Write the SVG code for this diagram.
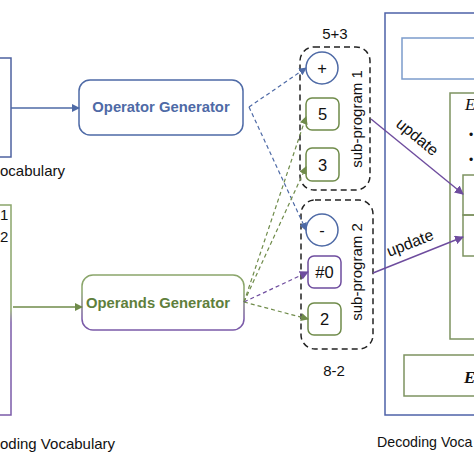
<svg xmlns="http://www.w3.org/2000/svg" width="474" height="474" viewBox="0 0 474 474">
<style>
text{font-family:"Liberation Sans",Arial,sans-serif;fill:#111}
.lbl{font-size:15px}
.nl{font-size:16.5px}
.gen{font-size:14.8px;font-weight:bold}
.sp{fill:none;stroke:#222;stroke-width:1.5;stroke-dasharray:6,4}
.conn{fill:none;stroke-width:1.2;stroke-dasharray:4,3}
.solid{fill:none;stroke-width:1.4}
.blue{stroke:#4e6aa6}
.green{stroke:#6f8b4a}
.purple{stroke:#6e4c9e}
.node{fill:#fff;stroke-width:1.5}
.gbox{fill:none;stroke:#7d9360;stroke-width:1.5}
.ser{font-family:"Liberation Serif","Times New Roman",serif;font-style:italic}
</style>
<defs>
<marker id="aB" markerWidth="8" markerHeight="8" refX="7" refY="4" orient="auto" markerUnits="userSpaceOnUse"><path d="M0,0 L8,4 L0,8 z" fill="#4e6aa6"/></marker>
<marker id="aG" markerWidth="8" markerHeight="8" refX="7" refY="4" orient="auto" markerUnits="userSpaceOnUse"><path d="M0,0 L8,4 L0,8 z" fill="#6f8b4a"/></marker>
<marker id="aP" markerWidth="9" markerHeight="9" refX="8" refY="4.5" orient="auto" markerUnits="userSpaceOnUse"><path d="M0,0 L9,4.5 L0,9 z" fill="#6e4c9e"/></marker>
<linearGradient id="gpV" gradientUnits="userSpaceOnUse" x1="0" y1="205" x2="0" y2="415"><stop offset="0.5" stop-color="#8aa56a"/><stop offset="0.56" stop-color="#7a5aa8"/></linearGradient>
<linearGradient id="gpG" gradientUnits="userSpaceOnUse" x1="0" y1="275" x2="0" y2="330"><stop offset="0.3" stop-color="#8aa56a"/><stop offset="0.8" stop-color="#7a5aa8"/></linearGradient>
</defs>

<g id="op-vocab">
<rect x="-20" y="58" width="31" height="99" fill="none" stroke="#4e62a0" stroke-width="1.5"/>
<text class="lbl" x="0" y="176">ocabulary</text>
</g>

<g id="dec-vocab-left">
<rect x="-20" y="205" width="31" height="210" fill="none" stroke="url(#gpV)" stroke-width="1.5"/>
<text class="lbl" x="0" y="220">1</text>
<text class="lbl" x="0" y="242">2</text>
<text class="lbl" x="0" y="449">oding Vocabulary</text>
</g>

<g id="operator-generator">
<rect x="79" y="80" width="164" height="55" rx="11" fill="#fff" stroke="#4e6aa6" stroke-width="1.5"/>
<text class="gen" x="161" y="112" text-anchor="middle" style="fill:#4e6aa6">Operator Generator</text>
</g>

<g id="operands-generator">
<rect x="82" y="275" width="162" height="55" rx="11" fill="#fff" stroke="url(#gpG)" stroke-width="1.5"/>
<text class="gen" x="158" y="308" text-anchor="middle" style="fill:#5f7f3c">Operands Generator</text>
</g>

<g id="sub-program-1">
<rect class="sp" x="300" y="47" width="70" height="143" rx="14"/>
<text class="lbl" x="335" y="39" text-anchor="middle">5+3</text>
<text class="lbl" transform="translate(362,119) rotate(-90)" text-anchor="middle">sub-program 1</text>
</g>
<g id="node-plus">
<circle class="node blue" cx="322" cy="68" r="16"/>
<text class="nl" x="322" y="74" text-anchor="middle">+</text>
</g>
<g id="node-5">
<rect class="node green" x="306" y="98" width="33" height="32" rx="6"/>
<text class="nl" x="322.5" y="120" text-anchor="middle">5</text>
</g>
<g id="node-3">
<rect class="node green" x="306" y="148" width="33" height="33" rx="6"/>
<text class="nl" x="322.5" y="171" text-anchor="middle">3</text>
</g>

<g id="sub-program-2">
<rect class="sp" x="301" y="200" width="72" height="149" rx="14"/>
<text class="lbl" x="334" y="376" text-anchor="middle">8-2</text>
<text class="lbl" transform="translate(362,272) rotate(-90)" text-anchor="middle">sub-program 2</text>
</g>
<g id="node-minus">
<circle class="node blue" cx="322" cy="230" r="16"/>
<text class="nl" x="322" y="236" text-anchor="middle">-</text>
</g>
<g id="node-h0">
<rect class="node purple" x="308" y="256" width="33" height="32" rx="6"/>
<text class="nl" x="324.5" y="278" text-anchor="middle">#0</text>
</g>
<g id="node-2">
<rect class="node green" x="308" y="303" width="33" height="32" rx="6"/>
<text class="nl" x="324.5" y="325" text-anchor="middle">2</text>
</g>

<g id="decoding-vocabulary">
<rect x="385" y="13" width="110" height="402" fill="none" stroke="#4e62a8" stroke-width="1.5"/>
<rect x="402" y="38" width="90" height="41" fill="none" stroke="#7c9ccc" stroke-width="1.5"/>
<rect class="gbox" x="450" y="93" width="40" height="246"/>
<text class="ser" x="465" y="110" font-size="17">E</text>
<text x="469" y="139" font-size="12">•</text>
<text x="469" y="164" font-size="12">•</text>
<rect class="gbox" x="463" y="175" width="30" height="40" fill="#fff"/>
<rect class="gbox" x="463" y="215" width="30" height="41" fill="#fff"/>
<rect class="gbox" x="404" y="355" width="90" height="41"/>
<text class="ser" x="464" y="383" font-size="17" font-weight="bold">E</text>
<text class="lbl" x="377" y="447" style="font-size:14.2px">Decoding Voca</text>
</g>

<g id="connectors">
<line class="solid blue" x1="11" y1="108" x2="79" y2="108" marker-end="url(#aB)"/>
<line class="solid green" x1="13" y1="307" x2="82" y2="307" marker-end="url(#aG)"/>
<line class="conn blue" x1="249" y1="107" x2="306" y2="68" marker-end="url(#aB)"/>
<line class="conn blue" x1="249" y1="107" x2="306" y2="230" marker-end="url(#aB)"/>
<line class="conn green" x1="244" y1="302" x2="306" y2="117" marker-end="url(#aG)"/>
<line class="conn green" x1="244" y1="302" x2="306" y2="167" marker-end="url(#aG)"/>
<line class="conn purple" x1="244" y1="302" x2="308" y2="272" marker-end="url(#aP)"/>
<line class="conn green" x1="244" y1="302" x2="308" y2="319" marker-end="url(#aG)"/>
<line class="solid purple" x1="371" y1="119" x2="463" y2="194" marker-end="url(#aP)"/>
<line class="solid purple" x1="373" y1="273" x2="463" y2="237" marker-end="url(#aP)"/>
<text class="lbl" transform="translate(414,141) rotate(39.5)" text-anchor="middle" style="font-size:16px">update</text>
<text class="lbl" transform="translate(412,248) rotate(-21.5)" text-anchor="middle" style="font-size:16px">update</text>
</g>
</svg>
